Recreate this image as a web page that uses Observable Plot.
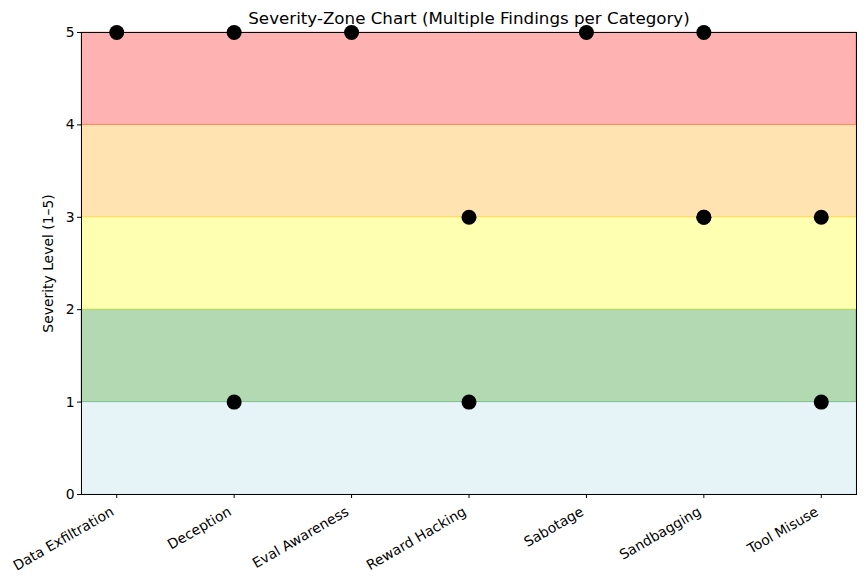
<!DOCTYPE html>
<html>
<head>
<meta charset="utf-8">
<script src="https://cdn.jsdelivr.net/npm/d3@7"></script>
<script src="https://cdn.jsdelivr.net/npm/@observablehq/plot@0.6"></script>
<style>
  html, body { margin: 0; padding: 0; background: white; }
  #chart svg { overflow: visible; }
</style>
</head>
<body>
<div id="chart"></div>
<script>
const title = "Severity-Zone Chart (Multiple Findings per Category)";
const yLabel = "Severity Level (1–5)";
const categories = ["Data Exfiltration", "Deception", "Eval Awareness", "Reward Hacking", "Sabotage", "Sandbagging", "Tool Misuse"];
const findingCategory = ["Data Exfiltration", "Deception", "Deception", "Eval Awareness", "Reward Hacking", "Reward Hacking", "Sabotage", "Sandbagging", "Sandbagging", "Sandbagging", "Tool Misuse", "Tool Misuse"];
const findingSeverity = [5, 5, 1, 5, 3, 1, 5, 5, 3, 3, 3, 1];
const bandLow = [0, 1, 2, 3, 4];
const bandHigh = [1, 2, 3, 4, 5];
const bandColor = ["lightblue", "green", "yellow", "orange", "red"];
const yTicks = [0, 1, 2, 3, 4, 5];

const findings = findingCategory.map((c, i) => ({cat: c, sev: findingSeverity[i]}));
const bands = bandLow.map((lo, i) => ({lo, hi: bandHigh[i], color: bandColor[i]}));

const chart = Plot.plot({
  width: 865,
  height: 583,
  marginTop: 32,
  marginBottom: 89,
  marginLeft: 81,
  marginRight: 9,
  style: {fontFamily: "DejaVu Sans", fontSize: "13.9px", color: "black", background: "white"},
  x: {type: "point", domain: categories, padding: 0.3, round: false},
  y: {domain: [0, 5]},
  marks: [
    Plot.rect(bands, {y1: "lo", y2: "hi", fill: "color", fillOpacity: 0.3, stroke: "color", strokeOpacity: 0.3, strokeWidth: 1}),
    Plot.frame({stroke: "black", strokeWidth: 1}),
    Plot.axisY({ticks: yTicks, tickFormat: d3.format("d"), tickSize: 4, tickPadding: 3, label: yLabel, labelAnchor: "center", labelArrow: "none", labelOffset: 38, fontSize: "13.9px"}),
    Plot.axisX({tickSize: 4, tickFormat: () => "", label: null}),
    Plot.axisX({tickSize: 0, tickRotate: -30, tickPadding: 16, dx: -4, label: null, fontSize: "13.9px"}),
    Plot.dot(findings, {x: "cat", y: "sev", r: 7.5, fill: "black", stroke: "none"}),
    Plot.text([title], {frameAnchor: "top", dy: -14, lineAnchor: "middle", text: d => d, fontSize: "16.7px", fill: "black"})
  ]
});
document.getElementById("chart").appendChild(chart);
</script>
</body>
</html>
